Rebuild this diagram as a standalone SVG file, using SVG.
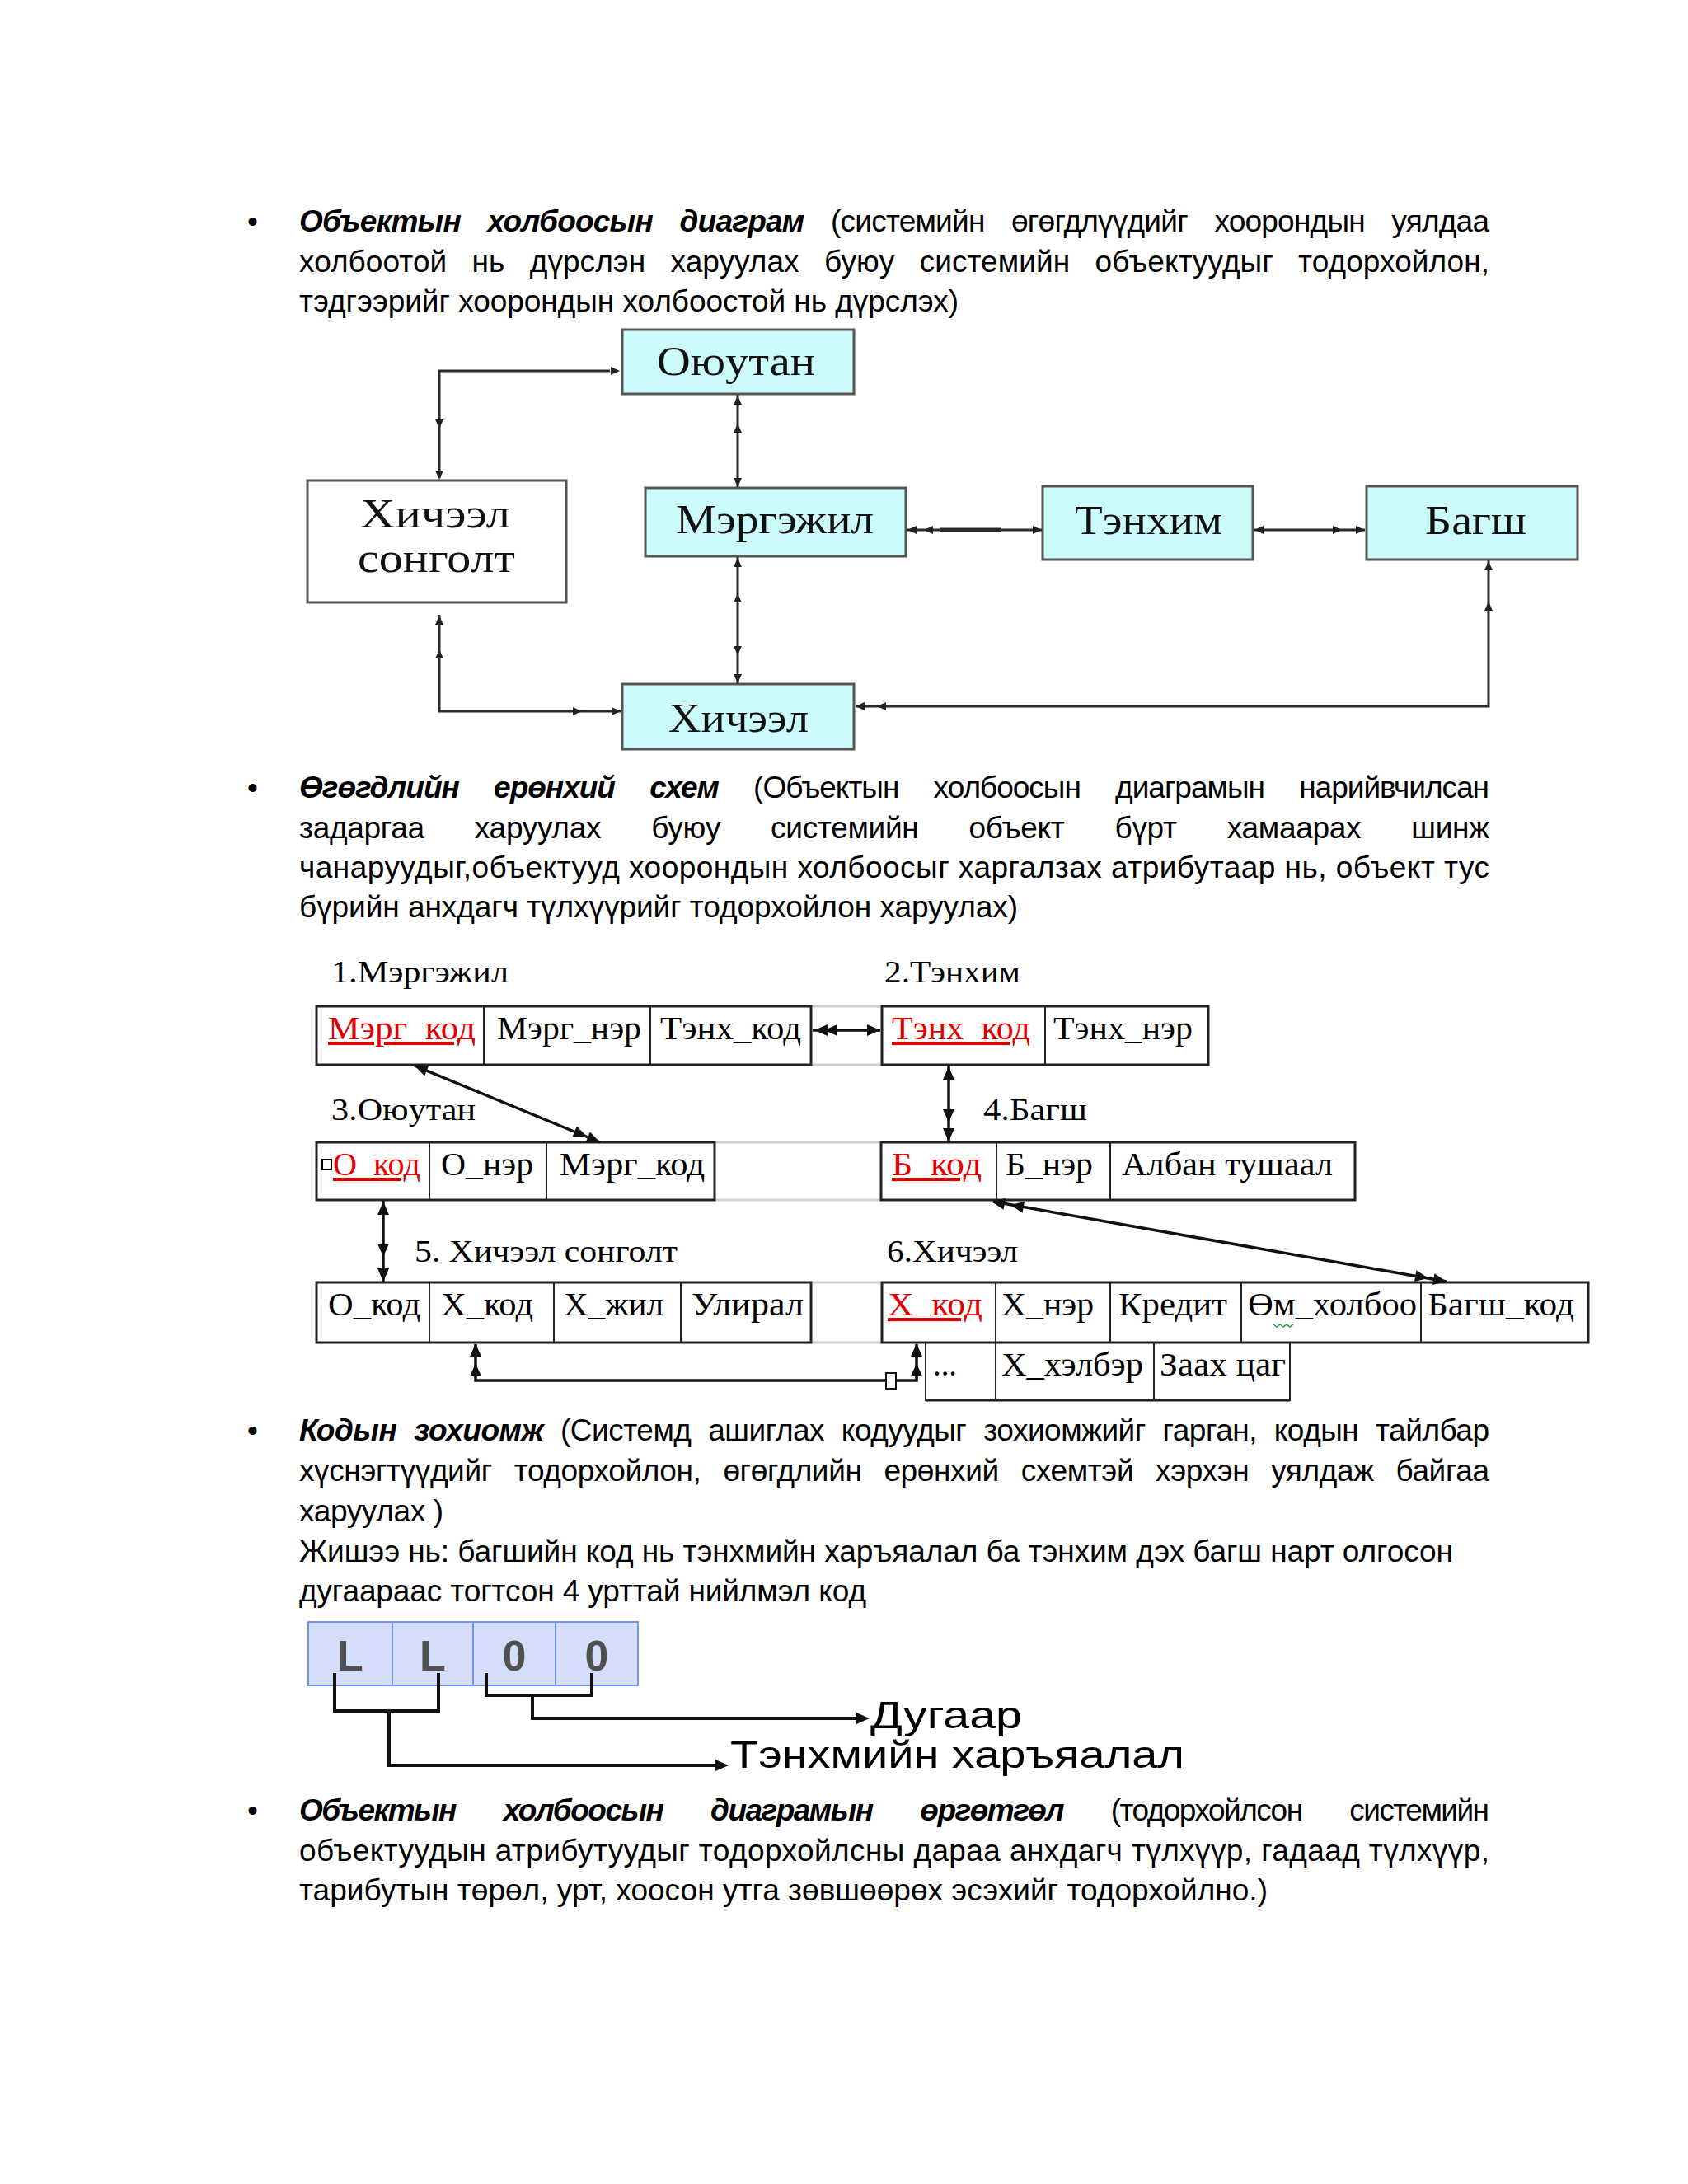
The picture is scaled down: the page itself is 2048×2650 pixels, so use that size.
<svg xmlns="http://www.w3.org/2000/svg" xmlns:xlink="http://www.w3.org/1999/xlink" width="2048" height="2650" viewBox="0 0 2048 2650">
<style>
.body{font-family:"Liberation Sans",Arial,sans-serif;font-size:37px;fill:#000}
.bi{font-weight:bold;font-style:italic}
.box{fill:#ccfbfb;stroke:#555;stroke-width:3}
.wbox{fill:#fff;stroke:#555;stroke-width:3}
.bx{font-family:"Liberation Serif","Times New Roman",serif;font-size:50px;fill:#111}
.tbl{fill:#fff;stroke:#222;stroke-width:3}
.div{stroke:#222;stroke-width:2;fill:none}
.ext{stroke:#d0d0d0;stroke-width:3;fill:none}
.ct{font-family:"Liberation Serif","Times New Roman",serif;font-size:41px;fill:#000}
.pk{fill:#e00000;text-decoration:underline}
.lb{font-family:"Liberation Serif","Times New Roman",serif;font-size:37px;fill:#000}
.c1{stroke:#2a2a2a;stroke-width:3;fill:none}
.c2{stroke:#111;stroke-width:3.5;fill:none}
.c3{stroke:#111;stroke-width:4;fill:none}
.code{fill:#d4defb;stroke:#7393f0;stroke-width:2}
.cl{font-family:"Liberation Sans",Arial,sans-serif;font-size:52px;font-weight:bold;fill:#505050;text-anchor:middle}
.lg{font-family:"Liberation Sans",Arial,sans-serif;font-size:46px;fill:#000}
</style>
<defs>
<path id="ah" d="M0,0 L-11,-5 L-11,5 Z" fill="#222"/>
<path id="ah2" d="M0,0 L-16,-7 L-16,7 Z" fill="#111"/>
</defs>
<rect width="2048" height="2650" fill="#fff"/>

<!-- Paragraph 1 -->
<g id="para1" class="body">
<text x="300" y="281">•</text>
<text x="363" y="281" word-spacing="23" textLength="1444" lengthAdjust="spacing"><tspan class="bi">Объектын холбоосын диаграм</tspan> (системийн өгөгдлүүдийг хоорондын уялдаа</text>
<text x="363" y="330" word-spacing="20" textLength="1444" lengthAdjust="spacing">холбоотой нь дүрслэн харуулах буюу системийн объектуудыг тодорхойлон,</text>
<text x="363" y="378" textLength="800" lengthAdjust="spacing">тэдгээрийг хоорондын холбоостой нь дүрслэх)</text>
</g>

<!-- Diagram 1 nodes -->
<g id="n-oyutan"><rect class="box" x="755" y="400" width="281" height="78"/><text class="bx" x="797" y="455" textLength="192" lengthAdjust="spacingAndGlyphs">Оюутан</text></g>
<g id="n-khicheel-songolt"><rect class="wbox" x="373" y="583" width="314" height="148"/><text class="bx" x="437" y="640" textLength="182" lengthAdjust="spacingAndGlyphs">Хичээл</text><text class="bx" x="434" y="694" textLength="191" lengthAdjust="spacingAndGlyphs">сонголт</text></g>
<g id="n-mergejil"><rect class="box" x="783" y="592" width="316" height="83"/><text class="bx" x="820" y="647" textLength="240" lengthAdjust="spacingAndGlyphs">Мэргэжил</text></g>
<g id="n-tenkhim"><rect class="box" x="1265" y="590" width="255" height="89"/><text class="bx" x="1304" y="648" textLength="179" lengthAdjust="spacingAndGlyphs">Тэнхим</text></g>
<g id="n-bagsh"><rect class="box" x="1658" y="590" width="256" height="89"/><text class="bx" x="1729" y="648" textLength="123" lengthAdjust="spacingAndGlyphs">Багш</text></g>
<g id="n-khicheel"><rect class="box" x="755" y="830" width="281" height="79"/><text class="bx" x="811" y="888" textLength="170" lengthAdjust="spacingAndGlyphs">Хичээл</text></g>

<!-- Diagram 1 connectors -->
<g id="connectors-1">
<path class="c1" d="M740,450 H533 V580"/>
<use href="#ah" transform="translate(752,450)"/>
<use href="#ah" transform="translate(533,520) rotate(90)"/>
<use href="#ah" transform="translate(533,582) rotate(90)"/>
<path class="c1" d="M895,479 V591"/>
<use href="#ah" transform="translate(895,480) rotate(-90)"/>
<use href="#ah" transform="translate(895,514) rotate(-90)"/>
<use href="#ah" transform="translate(895,591) rotate(90)"/>
<path class="c1" d="M895,676 V830"/>
<use href="#ah" transform="translate(895,677) rotate(-90)"/>
<use href="#ah" transform="translate(895,720) rotate(-90)"/>
<use href="#ah" transform="translate(895,795) rotate(90)"/>
<use href="#ah" transform="translate(895,829) rotate(90)"/>
<path class="c1" d="M533,746 V863 H753"/>
<use href="#ah" transform="translate(533,747) rotate(-90)"/>
<use href="#ah" transform="translate(533,788) rotate(-90)"/>
<use href="#ah" transform="translate(706,863)"/>
<use href="#ah" transform="translate(753,863)"/>
<path class="c1" d="M1806,680 V857 H1038"/>
<use href="#ah" transform="translate(1806,681) rotate(-90)"/>
<use href="#ah" transform="translate(1806,730) rotate(-90)"/>
<use href="#ah" transform="translate(1038,857) rotate(180)"/>
<use href="#ah" transform="translate(1064,857) rotate(180)"/>
<path class="c1" d="M1100,643 H1264"/>
<path d="M1140,643 H1215" stroke="#2a2a2a" stroke-width="5"/>
<use href="#ah" transform="translate(1101,643) rotate(180)"/>
<use href="#ah" transform="translate(1121,643) rotate(180)"/>
<use href="#ah" transform="translate(1264,643)"/>
<path class="c1" d="M1521,643 H1656"/>
<use href="#ah" transform="translate(1522,643) rotate(180)"/>
<use href="#ah" transform="translate(1628,643)"/>
<use href="#ah" transform="translate(1656,643)"/>
</g>

<!-- Paragraph 2 -->
<g id="para2" class="body">
<text x="300" y="968">•</text>
<text x="363" y="968" word-spacing="33" textLength="1444" lengthAdjust="spacing"><tspan class="bi">Өгөгдлийн ерөнхий схем</tspan> (Объектын холбоосын диаграмын нарийвчилсан</text>
<text x="363" y="1017" word-spacing="51" textLength="1444" lengthAdjust="spacing">задаргаа харуулах буюу системийн объект бүрт хамаарах шинж</text>
<text x="363" y="1065" word-spacing="0" textLength="1444" lengthAdjust="spacing">чанаруудыг,объектууд хоорондын холбоосыг харгалзах атрибутаар нь, объект тус</text>
<text x="363" y="1113" textLength="872" lengthAdjust="spacing">бүрийн анхдагч түлхүүрийг тодорхойлон харуулах)</text>
</g>

<!-- Diagram 2 -->
<g id="table-extensions">
<path class="ext" d="M984,1221 H1070 M984,1292 H1070 M867,1386 H1069 M867,1456 H1069 M984,1556 H1070 M984,1629 H1070"/>
</g>
<g id="t1-mergejil">
<text class="lb" x="402" y="1192" textLength="215" lengthAdjust="spacingAndGlyphs">1.Мэргэжил</text>
<rect class="tbl" x="384" y="1221" width="600" height="71"/>
<path class="div" d="M587,1221 V1292 M789,1221 V1292"/>
<text class="ct pk" x="398" y="1261" textLength="179" lengthAdjust="spacingAndGlyphs">Мэрг_код</text>
<text class="ct" x="603" y="1261" textLength="175" lengthAdjust="spacingAndGlyphs">Мэрг_нэр</text>
<text class="ct" x="801" y="1261" textLength="171" lengthAdjust="spacingAndGlyphs">Тэнх_код</text>
</g>
<g id="t2-tenkhim">
<text class="lb" x="1073" y="1192" textLength="165" lengthAdjust="spacingAndGlyphs">2.Тэнхим</text>
<rect class="tbl" x="1070" y="1221" width="396" height="71"/>
<path class="div" d="M1268,1221 V1292"/>
<text class="ct pk" x="1082" y="1261" textLength="168" lengthAdjust="spacingAndGlyphs">Тэнх_код</text>
<text class="ct" x="1278" y="1261" textLength="169" lengthAdjust="spacingAndGlyphs">Тэнх_нэр</text>
</g>
<g id="t3-oyutan">
<text class="lb" x="402" y="1359" textLength="175" lengthAdjust="spacingAndGlyphs">3.Оюутан</text>
<rect class="tbl" x="384" y="1386" width="483" height="70"/>
<path class="div" d="M521,1386 V1456 M663,1386 V1456"/>
<rect x="391" y="1407" width="11" height="12" fill="none" stroke="#000" stroke-width="2"/>
<text class="ct pk" x="404" y="1426" textLength="106" lengthAdjust="spacingAndGlyphs">О_код</text>
<text class="ct" x="535" y="1426" textLength="112" lengthAdjust="spacingAndGlyphs">О_нэр</text>
<text class="ct" x="679" y="1426" textLength="176" lengthAdjust="spacingAndGlyphs">Мэрг_код</text>
</g>
<g id="t4-bagsh">
<text class="lb" x="1193" y="1359" textLength="126" lengthAdjust="spacingAndGlyphs">4.Багш</text>
<rect class="tbl" x="1069" y="1386" width="575" height="70"/>
<path class="div" d="M1209,1386 V1456 M1347,1386 V1456"/>
<text class="ct pk" x="1082" y="1426" textLength="109" lengthAdjust="spacingAndGlyphs">Б_код</text>
<text class="ct" x="1220" y="1426" textLength="106" lengthAdjust="spacingAndGlyphs">Б_нэр</text>
<text class="ct" x="1361" y="1426" textLength="256" lengthAdjust="spacingAndGlyphs">Албан тушаал</text>
</g>
<g id="t5-khicheel-songolt">
<text class="lb" x="503" y="1531" textLength="319" lengthAdjust="spacingAndGlyphs">5. Хичээл сонголт</text>
<rect class="tbl" x="384" y="1556" width="600" height="73"/>
<path class="div" d="M521,1556 V1629 M672,1556 V1629 M826,1556 V1629"/>
<text class="ct" x="398" y="1596" textLength="112" lengthAdjust="spacingAndGlyphs">О_код</text>
<text class="ct" x="535" y="1596" textLength="112" lengthAdjust="spacingAndGlyphs">Х_код</text>
<text class="ct" x="684" y="1596" textLength="121" lengthAdjust="spacingAndGlyphs">Х_жил</text>
<text class="ct" x="839" y="1596" textLength="136" lengthAdjust="spacingAndGlyphs">Улирал</text>
</g>
<g id="t6-khicheel">
<text class="lb" x="1076" y="1531" textLength="159" lengthAdjust="spacingAndGlyphs">6.Хичээл</text>
<rect class="tbl" x="1070" y="1556" width="857" height="73"/>
<path class="div" d="M1208,1556 V1629 M1347,1556 V1629 M1506,1556 V1629 M1724,1556 V1629"/>
<path class="div" d="M1123,1629 V1699 H1565 V1629 M1208,1629 V1699 M1400,1629 V1699"/>
<path d="M1123,1699 H1565" stroke="#222" stroke-width="3"/>
<text class="ct pk" x="1077" y="1596" textLength="115" lengthAdjust="spacingAndGlyphs">Х_код</text>
<text class="ct" x="1215" y="1596" textLength="112" lengthAdjust="spacingAndGlyphs">Х_нэр</text>
<text class="ct" x="1357" y="1596" textLength="132" lengthAdjust="spacingAndGlyphs">Кредит</text>
<text class="ct" x="1514" y="1596" textLength="205" lengthAdjust="spacingAndGlyphs">Өм_холбоо</text>
<path d="M1545,1607 l4,3 l4,-3 l4,3 l4,-3 l4,3 l4,-3" stroke="#2a9a2a" stroke-width="1.5" fill="none"/>
<text class="ct" x="1732" y="1596" textLength="178" lengthAdjust="spacingAndGlyphs">Багш_код</text>
<text class="ct" x="1132" y="1669" textLength="29" lengthAdjust="spacingAndGlyphs">...</text>
<text class="ct" x="1215" y="1669" textLength="172" lengthAdjust="spacingAndGlyphs">Х_хэлбэр</text>
<text class="ct" x="1407" y="1669" textLength="153" lengthAdjust="spacingAndGlyphs">Заах цаг</text>
</g>

<g id="connectors-2">
<path class="c2" d="M986,1250 H1068"/>
<use href="#ah2" transform="translate(988,1250) rotate(180)"/>
<use href="#ah2" transform="translate(1000,1250) rotate(180)"/>
<use href="#ah2" transform="translate(1068,1250)"/>
<path class="c2" d="M503,1293 L728,1386"/>
<use href="#ah2" transform="translate(503,1293) rotate(202.5)"/>
<use href="#ah2" transform="translate(712,1379) rotate(22.5)"/>
<use href="#ah2" transform="translate(728,1386) rotate(22.5)"/>
<path class="c2" d="M1151,1293 V1385"/>
<use href="#ah2" transform="translate(1151,1294) rotate(-90)"/>
<use href="#ah2" transform="translate(1151,1362) rotate(90)"/>
<use href="#ah2" transform="translate(1151,1385) rotate(90)"/>
<path class="c2" d="M465,1457 V1555"/>
<use href="#ah2" transform="translate(465,1458) rotate(-90)"/>
<use href="#ah2" transform="translate(465,1525) rotate(90)"/>
<use href="#ah2" transform="translate(465,1555) rotate(90)"/>
<path class="c2" d="M1205,1458 L1755,1555"/>
<use href="#ah2" transform="translate(1203,1458) rotate(190)"/>
<use href="#ah2" transform="translate(1226,1462) rotate(190)"/>
<use href="#ah2" transform="translate(1733,1551) rotate(10)"/>
<use href="#ah2" transform="translate(1755,1555) rotate(10)"/>
<path class="c2" d="M1112,1631 V1675 H1087 M1075,1675 H577 V1631"/>
<rect x="1075" y="1666" width="12" height="19" fill="#fff" stroke="#111" stroke-width="2"/>
<use href="#ah2" transform="translate(1112,1630) rotate(-90)"/>
<use href="#ah2" transform="translate(1112,1654) rotate(-90)"/>
<use href="#ah2" transform="translate(577,1630) rotate(-90)"/>
<use href="#ah2" transform="translate(577,1654) rotate(-90)"/>
</g>

<!-- Paragraph 3 -->
<g id="para3" class="body">
<text x="300" y="1748">•</text>
<text x="363" y="1748" word-spacing="11" textLength="1444" lengthAdjust="spacing"><tspan class="bi">Кодын зохиомж</tspan> (Системд ашиглах кодуудыг зохиомжийг гарган, кодын тайлбар</text>
<text x="363" y="1797" word-spacing="17" textLength="1444" lengthAdjust="spacing">хүснэгтүүдийг тодорхойлон, өгөгдлийн ерөнхий схемтэй хэрхэн уялдаж байгаа</text>
<text x="363" y="1846" textLength="175" lengthAdjust="spacing">харуулах )</text>
<text x="363" y="1895" textLength="1400" lengthAdjust="spacing">Жишээ нь: багшийн код нь тэнхмийн харъяалал ба тэнхим дэх багш нарт олгосон</text>
<text x="363" y="1943" textLength="688" lengthAdjust="spacing">дугаараас тогтсон 4 урттай нийлмэл код</text>
</g>

<!-- Code structure -->
<g id="code-box">
<rect class="code" x="374" y="1968" width="400" height="77"/>
<path d="M476,1968 V2045 M574,1968 V2045 M674,1968 V2045" stroke="#7393f0" stroke-width="2"/>
<text class="cl" x="425" y="2027">L</text>
<text class="cl" x="525" y="2027">L</text>
<text class="cl" x="624" y="2027">0</text>
<text class="cl" x="724" y="2027">0</text>
</g>
<g id="connectors-3">
<path class="c3" d="M406,2030 V2076 H532 V2030 M472,2076 V2142 H870"/>
<use href="#ah2" transform="translate(884,2142)"/>
<path class="c3" d="M590,2030 V2057 H718 V2030 M646,2057 V2085 H1042"/>
<use href="#ah2" transform="translate(1055,2085)"/>
</g>
<g id="code-labels">
<text class="lg" x="1056" y="2097" textLength="184" lengthAdjust="spacingAndGlyphs">Дугаар</text>
<text class="lg" x="886" y="2145" textLength="551" lengthAdjust="spacingAndGlyphs">Тэнхмийн харъяалал</text>
</g>

<!-- Paragraph 4 -->
<g id="para4" class="body">
<text x="300" y="2209">•</text>
<text x="363" y="2209" word-spacing="49" textLength="1444" lengthAdjust="spacing"><tspan class="bi">Объектын холбоосын диаграмын өргөтгөл</tspan> (тодорхойлсон системийн</text>
<text x="363" y="2258" word-spacing="0" textLength="1444" lengthAdjust="spacing">объектуудын атрибутуудыг тодорхойлсны дараа анхдагч түлхүүр, гадаад түлхүүр,</text>
<text x="363" y="2306" textLength="1175" lengthAdjust="spacing">тарибутын төрөл, урт, хоосон утга зөвшөөрөх эсэхийг тодорхойлно.)</text>
</g>
</svg>
